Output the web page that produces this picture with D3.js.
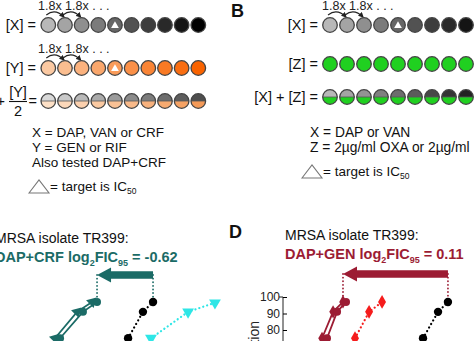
<!DOCTYPE html>
<html>
<head>
<meta charset="utf-8">
<script src="https://cdn.jsdelivr.net/npm/d3@7"></script>
<style>
  body { margin: 0; background: #fff; }
  svg { display: block; font-family: "Liberation Sans", Arial, sans-serif; }
</style>
</head>
<body>
<svg id="fig" width="474" height="341"></svg>
<script>
// checkerboard wells: ten dilution steps, each 1.8x the last
const wells = [0, 1, 2, 3, 4, 5, 6, 7, 8, 9];
const targetWell = 4;
const foldLabel = '1.8x 1.8x . . .';

const legendA = ['X = DAP, VAN or CRF', 'Y = GEN or RIF', 'Also tested DAP+CRF'];
const legendB = ['X = DAP or VAN', 'Z = 2\u00b5g/ml OXA or 2\u00b5g/ml'];

// dose response, x = log2 dose step, y = % inhibition
const inhibitionTicks = [80, 90, 100];
const dapC = [[8.63, 75], [9.56, 91], [10.19, 97]];
const crfC = [[10.06, 75], [12.38, 91], [14.06, 96.5]];
const dapCrfC1 = [[4.06, 75], [5.44, 91], [6.38, 97]];
const dapCrfC2 = [[4.38, 75], [5.81, 91], [6.69, 97]];

const dapD = [[8.75, 75], [9.69, 91], [10.31, 97]];
const genD = [[4.5, 75], [5.38, 91], [6.19, 97]];
const dapGenD1 = [[2.44, 75], [3.13, 91], [3.75, 97]];
const dapGenD2 = [[2.75, 75], [3.38, 91], [3.94, 97]];

const svg = d3.select('#fig');
const R = 7.3;

const grey = d3.scaleLinear().domain([0, 9]).range(['#b8b8b8', '#000000']);
const orange = d3.scaleLinear().domain([0, 9]).range(['#fbc9a2', '#f96300']);
const greyHalf = d3.scaleLinear().domain([0, 9]).range(['#d8d8d8', '#4e4e4e']);
const greyHalfB = d3.scaleLinear().domain([0, 9]).range(['#b8b8b8', '#101010']);
const orangeHalf = d3.scaleLinear().domain([0, 9]).range(['#fde0c6', '#f49a58']);
const green = '#20d020';

svg.append('defs').append('marker')
  .attr('id', 'tip')
  .attr('viewBox', '0 0 10 10')
  .attr('refX', 8).attr('refY', 5)
  .attr('markerWidth', 5).attr('markerHeight', 5)
  .attr('orient', 'auto')
  .append('path').attr('d', 'M0,0L10,5L0,10Z').attr('fill', '#222');

const halfPath = (cx, cy, top) => top
  ? `M${cx - R},${cy}A${R},${R} 0 0 1 ${cx + R},${cy}Z`
  : `M${cx - R},${cy}A${R},${R} 0 0 0 ${cx + R},${cy}Z`;

function wellRow(x, cy, topFill, bottomFill, target) {
  const g = svg.append('g');
  const cell = g.selectAll('g').data(wells).enter().append('g');
  if (bottomFill) {
    cell.append('path').attr('d', (d) => halfPath(x(d), cy, true)).attr('fill', topFill);
    cell.append('path').attr('d', (d) => halfPath(x(d), cy, false)).attr('fill', bottomFill);
    cell.append('line')
      .attr('x1', (d) => x(d) - R).attr('x2', (d) => x(d) + R)
      .attr('y1', cy).attr('y2', cy)
      .attr('stroke', '#555').attr('stroke-width', 0.8);
  }
  cell.append('circle')
    .attr('cx', (d) => x(d)).attr('cy', cy).attr('r', R)
    .attr('fill', bottomFill ? 'none' : topFill)
    .attr('stroke', '#444').attr('stroke-width', 1.3);
  if (target) {
    g.append('path')
      .attr('d', d3.symbol(d3.symbolTriangle, 26)())
      .attr('transform', `translate(${x(targetWell)},${cy + 0.8})`)
      .attr('fill', '#fff');
  }
}

function foldArrows(x, cy, textX) {
  svg.append('text').attr('x', textX).attr('y', cy - 15).attr('font-size', 12.5)
    .attr('fill', '#222').text(foldLabel);
  [0, 1].forEach((i) => {
    const x0 = x(i) - 2, x1 = x(i + 1) - 1;
    svg.append('path')
      .attr('d', `M${x0},${cy - 10}Q${(x0 + x1) / 2},${cy - 17} ${x1},${cy - 8}`)
      .attr('fill', 'none').attr('stroke', '#222').attr('stroke-width', 1.1)
      .attr('marker-end', 'url(#tip)');
  });
}

function label(x, y, txt, size, anchor) {
  return svg.append('text').attr('x', x).attr('y', y).attr('font-size', size)
    .attr('text-anchor', anchor || 'start').attr('fill', '#111').text(txt);
}

function targetNote(x, y) {
  svg.append('path')
    .attr('d', `M${x},${y + 6}L${x + 10},${y - 7}L${x + 20},${y + 6}Z`)
    .attr('fill', 'none').attr('stroke', '#777').attr('stroke-width', 1.1);
  const t = label(x + 21, y + 4, '= target is IC', 13.5);
  t.append('tspan').attr('dy', 3).attr('font-size', 8.5).text('50');
}

// panel A
const xA = d3.scaleLinear().domain([0, 9]).range([48.3, 198.3]);
foldArrows(xA, 25, 38);
label(36, 30, '[X] =', 14.5, 'end');
wellRow(xA, 25, grey, null, true);
foldArrows(xA, 68, 38);
label(36, 73, '[Y] =', 14.5, 'end');
wellRow(xA, 68, orange, null, true);
label(5, 106, '[X] +', 14.5, 'end');
label(18, 97, '[Y]', 14.5, 'middle');
svg.append('line').attr('x1', 9).attr('x2', 27).attr('y1', 101.5).attr('y2', 101.5)
  .attr('stroke', '#111').attr('stroke-width', 1.1);
label(18, 116, '2', 14.5, 'middle');
label(37, 106, '=', 14.5, 'end');
wellRow(xA, 101, greyHalf, orangeHalf, false);
legendA.forEach((s, i) => label(32, 137 + i * 15, s, 13.5));
targetNote(29, 187);

// panel B
label(231, 17, 'B', 18).attr('font-weight', 'bold');
const xB = d3.scaleLinear().domain([0, 9]).range([330, 483]);
foldArrows(xB, 25, 322);
label(318, 30, '[X] =', 14.5, 'end');
wellRow(xB, 25, grey, null, true);
label(318, 69, '[Z] =', 14.5, 'end');
wellRow(xB, 64, () => green, null, false);
label(318, 102, '[X] + [Z] =', 14.5, 'end');
wellRow(xB, 97, greyHalfB, () => green, false);
legendB.forEach((s, i) => label(310, 137 + i * 14.5, s, 13.8));
targetNote(302, 172);

// dose response panels
const y = d3.scaleLinear().domain([80, 100]).range([330, 297]);
const xC = d3.scaleLinear().domain([0, 12]).range([-10, 182]);
const xD = d3.scaleLinear().domain([0, 12]).range([283, 475]);
const teal = '#1b6b66';
const crimson = '#9c1c33';

function curve(x, data, color, dotted, shape, size, rot) {
  const line = d3.line().x((d) => x(d[0])).y((d) => y(d[1]));
  svg.append('path').datum(data).attr('d', line)
    .attr('fill', 'none').attr('stroke', color)
    .attr('stroke-width', dotted ? 2.2 : 1.8)
    .attr('stroke-linecap', dotted ? 'round' : 'butt')
    .attr('stroke-dasharray', dotted ? '0.1,4' : null);
  svg.append('g').selectAll('path').data(data).enter().append('path')
    .attr('d', d3.symbol(shape, size)())
    .attr('transform', (d) => `translate(${x(d[0])},${y(d[1])}) rotate(${rot || 0})`)
    .attr('fill', color);
}

function shiftArrow(x, from, to, color, yy) {
  const x0 = x(from[0]), x1 = x(to[0]);
  [x0, x1].forEach((xx) => svg.append('line')
    .attr('x1', xx).attr('x2', xx).attr('y1', yy).attr('y2', y(from[1]))
    .attr('stroke', color).attr('stroke-width', 1.8)
    .attr('stroke-linecap', 'round').attr('stroke-dasharray', '0.1,3.5'));
  svg.append('path')
    .attr('d', `M${x0},${yy - 3.8}H${x1 + 14}V${yy - 7.5}L${x1},${yy}L${x1 + 14},${yy + 7.5}V${yy + 3.8}H${x0}Z`)
    .attr('fill', color);
}

function title(x, y0, color, combo, fic) {
  label(x, y0, 'MRSA isolate TR399:', 14);
  const t = svg.append('text').attr('x', x).attr('y', y0 + 19)
    .attr('font-size', 14.5).attr('font-weight', 'bold').attr('fill', color);
  t.append('tspan').text(combo + ' log');
  t.append('tspan').attr('dy', 4).attr('font-size', 9).text('2');
  t.append('tspan').attr('dy', -4).text('FIC');
  t.append('tspan').attr('dy', 4).attr('font-size', 9).text('95');
  t.append('tspan').attr('dy', -4).text(' = ' + fic);
}

// panel C: DAP + CRF
title(-5, 243, teal, 'DAP+CRF', '-0.62');
shiftArrow(xC, dapC[2], dapCrfC2[2], teal, 275);
curve(xC, crfC, '#2ee6e6', true, d3.symbolTriangle, 60, 180);
curve(xC, dapC, '#000', true, d3.symbolCircle, 55);
curve(xC, dapCrfC1, teal, false, d3.symbolTriangle, 50, 45);
curve(xC, dapCrfC2, teal, false, d3.symbolCircle, 50);

// panel D: DAP + GEN
label(229, 238, 'D', 18).attr('font-weight', 'bold');
title(285, 240, crimson, 'DAP+GEN', '0.11');
shiftArrow(xD, dapD[2], dapGenD1[2], crimson, 274);
curve(xD, genD, '#f51c1c', true, d3.symbolDiamond, 55);
curve(xD, dapD, '#000', true, d3.symbolCircle, 55);
curve(xD, dapGenD1, crimson, false, d3.symbolDiamond, 50);
curve(xD, dapGenD2, crimson, false, d3.symbolCircle, 50);

const yAxis = svg.append('g').attr('transform', `translate(${xD(0)},0)`)
  .call(d3.axisLeft(y).tickValues(inhibitionTicks).tickSizeInner(-4).tickSizeOuter(-4).tickPadding(3));
yAxis.selectAll('text').attr('font-size', 12).attr('font-family', '"Liberation Sans", Arial, sans-serif').attr('fill', '#222');
yAxis.select('.domain').attr('stroke', '#222').attr('d', `M-4,${y(100)}H0V${y(70)}`);
svg.append('text')
  .attr('transform', `translate(${xD(0) - 24},321) rotate(-90)`)
  .attr('text-anchor', 'end').attr('font-size', 14).attr('fill', '#222')
  .text('% Inhibition');
</script>
</body>
</html>
